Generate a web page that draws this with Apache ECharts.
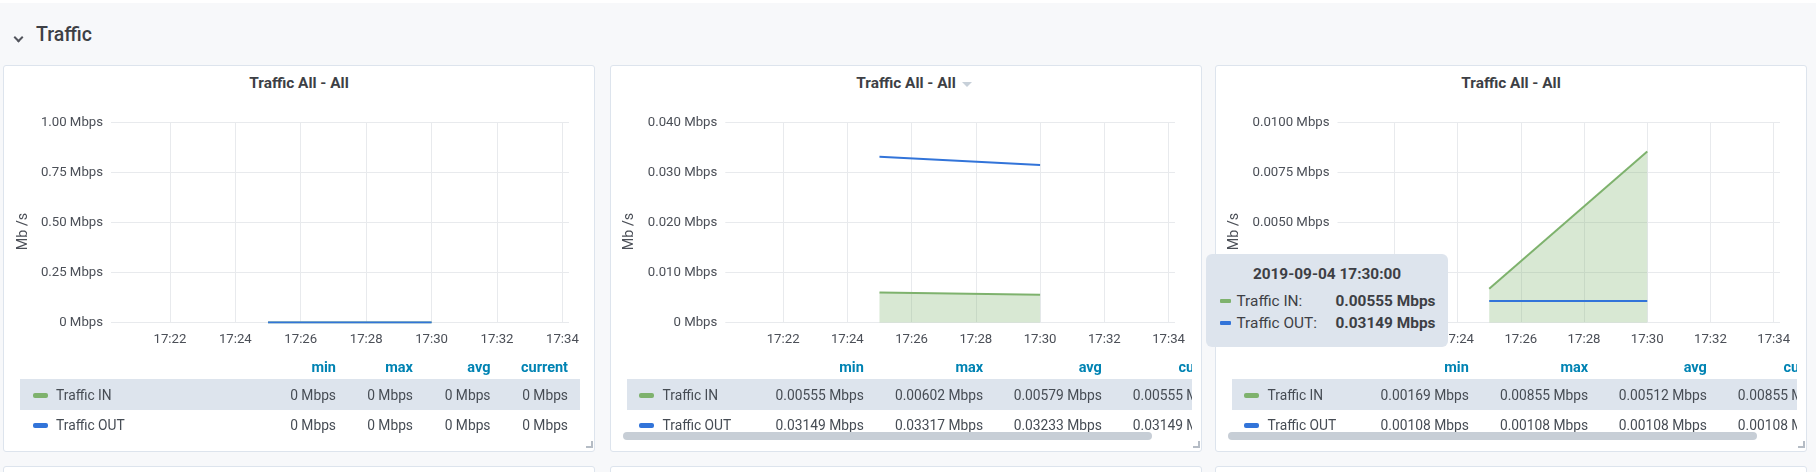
<!DOCTYPE html>
<html>
<head>
<meta charset="utf-8">
<script src="https://cdn.jsdelivr.net/npm/echarts@6/dist/echarts.min.js"></script>
<style>
html,body{margin:0;padding:0;width:1816px;height:472px;overflow:hidden;background:#f7f8fa;font-family:Roboto,"Noto Sans",sans-serif;}
.abs{position:absolute;}
.topbar{left:0;top:0;width:1816px;height:3px;background:#fff;}
.chev{left:15px;top:34px;width:5px;height:5px;border-right:2px solid #52545c;border-bottom:2px solid #52545c;transform:rotate(45deg);}
.rowtitle{left:36px;top:25px;font-size:19.5px;line-height:20px;font-weight:500;color:#3d3f45;}
.panel{background:#fff;border:1px solid #dde4ed;border-radius:3px;box-sizing:border-box;}
.ptitle{top:73px;width:592px;text-align:center;font-size:15.4px;line-height:20px;font-weight:700;color:#3d3f45;}
.caret{width:0;height:0;border-left:5px solid transparent;border-right:5px solid transparent;border-top:5px solid #c7d0d9;}
.chart{top:95px;width:592px;height:265px;}
.legend{top:355px;height:90px;overflow:hidden;}
.lg{position:absolute;font-size:13.8px;line-height:20px;color:#464c54;white-space:nowrap;}
.lh{position:absolute;font-size:14.5px;line-height:20px;color:#0083b3;font-weight:700;white-space:nowrap;}
.rowbg{position:absolute;left:0;top:24px;height:31px;background:#dde4ed;}
.sw{position:absolute;width:15px;height:5px;border-radius:2px;}
.scroll{top:432px;height:8px;border-radius:4px;background:#c7ced6;}
.handle{width:5px;height:5px;border-right:2px solid #b5bcc5;border-bottom:2px solid #b5bcc5;}
.tip{left:1206px;top:254px;width:242px;height:93px;background:#dde4ed;border-radius:6px;z-index:10;}
.tt{position:absolute;font-size:15.4px;line-height:20px;color:#3d3f45;white-space:nowrap;}
</style>
</head>
<body>
<div id="root"></div>
<script>
// ---------------- data ----------------
const timeLabels = ['2019-09-04 17:25:00', '2019-09-04 17:30:00'];
const xRange = ['2019-09-04 17:20:12', '2019-09-04 17:34:12'];
const xTickLabels = ['17:22', '17:24', '17:26', '17:28', '17:30', '17:32', '17:34'];
const tickDate = '2019-09-04';
const seriesNames = ['Traffic IN', 'Traffic OUT'];
const seriesColors = ['#7eb26d', '#3274d9'];

const panel1In = [0, 0];
const panel1Out = [0, 0];
const panel2In = [0.00602, 0.00555];
const panel2Out = [0.03317, 0.03149];
const panel3In = [0.00169, 0.00855];
const panel3Out = [0.00108, 0.00108];

const yMaxes = [1, 0.04, 0.01];
const ySteps = [0.25, 0.01, 0.0025];
const yDecimals = [2, 3, 4];

const statColumns = ['min', 'max', 'avg', 'current'];
const panel1StatsIn = [0, 0, 0, 0];
const panel1StatsOut = [0, 0, 0, 0];
const panel2StatsIn = [0.00555, 0.00602, 0.00579, 0.00555];
const panel2StatsOut = [0.03149, 0.03317, 0.03233, 0.03149];
const panel3StatsIn = [0.00169, 0.00855, 0.00512, 0.00855];
const panel3StatsOut = [0.00108, 0.00108, 0.00108, 0.00108];

const rowTitle = 'Traffic';
const panelTitle = 'Traffic All - All';
const yAxisName = 'Mb /s';
const tooltipTime = '2019-09-04 17:30:00';
const tooltipValues = [0.00555, 0.03149];

// ---------------- layout ----------------
const panelLefts = [3, 610, 1215];
const panelWidth = 592;
const gridLefts = [108, 115.3, 122.5];
const gridWidths = [458, 449.7, 442.5];
const legendLefts = [20, 626.5, 1231.5];
const legendWidths = [560, 565.5, 565.5];
const colRights = [[316, 393, 470.5, 548], [237.3, 356.7, 475.4, 594.5], [237.3, 356.7, 475.4, 594.5]];
const headRights = [[316, 393, 470.5, 548], [237.3, 356.7, 475.4, 599], [237.3, 356.7, 475.4, 599]];

const panelIn = [panel1In, panel2In, panel3In];
const panelOut = [panel1Out, panel2Out, panel3Out];
const statsIn = [panel1StatsIn, panel2StatsIn, panel3StatsIn];
const statsOut = [panel1StatsOut, panel2StatsOut, panel3StatsOut];

function toMs(s) {
  const [d, t] = s.split(' ');
  const [Y, M, D] = d.split('-').map(Number);
  const tp = t.split(':').map(Number);
  return Date.UTC(Y, M - 1, D, tp[0], tp[1], tp[2] || 0);
}
const xTicks = xTickLabels.map(t => toMs(tickDate + ' ' + t));
const pad = n => (n < 10 ? '0' : '') + n;
const fmtMbps = v => (v === 0 ? '0 Mbps' : v.toFixed(5) + ' Mbps');
const gridColor = '#e8eaed';

const root = document.getElementById('root');
function el(cls, style, text) {
  const d = document.createElement('div');
  d.className = cls;
  if (style) d.setAttribute('style', style);
  if (text !== undefined) d.textContent = text;
  return d;
}

root.appendChild(el('abs topbar'));
root.appendChild(el('abs chev'));
root.appendChild(el('abs rowtitle', '', rowTitle));

panelLefts.forEach(l => root.appendChild(el('abs panel', `left:${l}px;top:466px;width:${panelWidth}px;height:40px;`)));

panelLefts.forEach((pl, i) => {
  root.appendChild(el('abs panel', `left:${pl}px;top:65px;width:${panelWidth}px;height:387px;`));
  root.appendChild(el('abs ptitle', `left:${pl}px;`, panelTitle));
  if (i === 1) root.appendChild(el('abs caret', `left:${pl + 352}px;top:82px;`));
  root.appendChild(el('abs handle', `left:${pl + 583}px;top:441px;`));

  const chartDiv = el('abs chart', `left:${pl}px;`);
  root.appendChild(chartDiv);
  const chart = echarts.init(chartDiv, null, {renderer: 'canvas'});
  const xs = timeLabels.map(toMs);
  const dec = yDecimals[i];
  const textStyle = {fontFamily: 'Roboto', fontSize: 13.2, color: '#4b4f57'};
  chart.setOption({
    animation: false,
    grid: {left: gridLefts[i], top: 27.5, width: gridWidths[i], height: 200, containLabel: false},
    xAxis: {
      type: 'value',
      min: toMs(xRange[0]),
      max: toMs(xRange[1]),
      axisLine: {show: false},
      axisTick: {show: false, customValues: xTicks},
      axisLabel: Object.assign({
        margin: 11,
        customValues: xTicks,
        formatter: v => { const d = new Date(v); return pad(d.getUTCHours()) + ':' + pad(d.getUTCMinutes()); }
      }, textStyle),
      splitLine: {show: false}
    },
    yAxis: {
      type: 'value',
      min: 0,
      max: yMaxes[i],
      interval: ySteps[i],
      name: yAxisName,
      nameLocation: 'middle',
      nameGap: 72,
      nameTextStyle: {fontFamily: 'Roboto', fontSize: 14.3, color: '#4b4f57', padding: [0, 18, 0, 0]},
      axisLine: {show: false},
      axisTick: {show: false},
      axisLabel: Object.assign({
        margin: 8,
        formatter: v => (v === 0 ? '0 Mbps' : v.toFixed(dec) + ' Mbps')
      }, textStyle),
      splitLine: {show: true, lineStyle: {color: gridColor, width: 1}}
    },
    series: [
      {
        name: 'xgrid', type: 'line', data: [], z: 0, silent: true,
        markLine: {
          silent: true, symbol: 'none', z: 0, animation: false,
          label: {show: false},
          lineStyle: {color: gridColor, width: 1, type: 'solid'},
          emphasis: {disabled: true},
          data: xTicks.map(t => ({xAxis: t}))
        }
      },
      {
        name: seriesNames[0], type: 'line', symbol: 'none', z: 2,
        data: xs.map((x, k) => [x, panelIn[i][k]]),
        lineStyle: {color: seriesColors[0], width: 2},
        itemStyle: {color: seriesColors[0]},
        areaStyle: {color: seriesColors[0], opacity: 0.3}
      },
      {
        name: seriesNames[1], type: 'line', symbol: 'none', z: 3,
        data: xs.map((x, k) => [x, panelOut[i][k]]),
        lineStyle: {color: seriesColors[1], width: 2},
        itemStyle: {color: seriesColors[1]}
      }
    ]
  });

  const lg = el('abs legend', `left:${legendLefts[i]}px;width:${legendWidths[i]}px;`);
  root.appendChild(lg);
  lg.appendChild(el('rowbg', `width:${legendWidths[i]}px;`));
  const cr = colRights[i];
  statColumns.forEach((c, k) => {
    lg.appendChild(el('lh', `right:${legendWidths[i] - headRights[i][k]}px;top:3px;`, c));
  });
  const rows = [statsIn[i], statsOut[i]];
  const rowCenters = [40, 70];
  rows.forEach((st, r) => {
    const cy = rowCenters[r];
    lg.appendChild(el('sw', `left:12.5px;top:${cy - 2.5}px;background:${seriesColors[r]};`));
    lg.appendChild(el('lg', `left:36px;top:${cy - 10}px;`, seriesNames[r]));
    st.forEach((v, k) => {
      lg.appendChild(el('lg', `right:${legendWidths[i] - cr[k]}px;top:${cy - 10}px;`, fmtMbps(v)));
    });
  });
  if (i > 0) root.appendChild(el('abs scroll', `left:${pl + 13.3}px;width:528.5px;`));
});

const tip = el('abs tip');
root.appendChild(tip);
tip.appendChild(el('tt', 'left:0;width:242px;text-align:center;top:10px;font-weight:700;', tooltipTime));
const tipCenters = [46.7, 68.7];
seriesNames.forEach((n, r) => {
  const cy = tipCenters[r];
  tip.appendChild(el('sw', `left:14px;top:${cy - 2}px;width:11px;height:4px;border-radius:1px;background:${seriesColors[r]};`));
  tip.appendChild(el('tt', `left:30.5px;top:${cy - 10}px;`, n + ':'));
  tip.appendChild(el('tt', `left:129.5px;top:${cy - 10}px;font-weight:700;`, fmtMbps(tooltipValues[r])));
});
</script>
</body>
</html>
